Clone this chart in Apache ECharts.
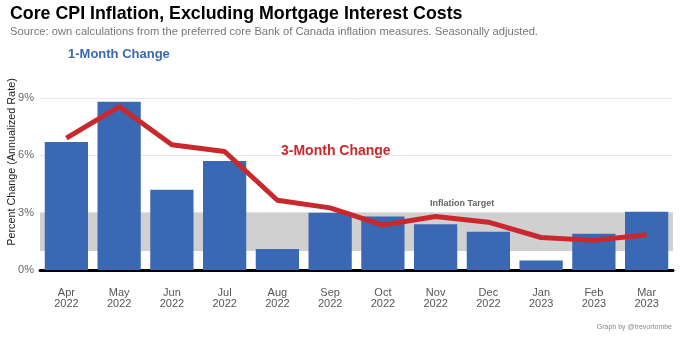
<!DOCTYPE html>
<html><head><meta charset="utf-8">
<script src="https://cdn.jsdelivr.net/npm/echarts@6/dist/echarts.min.js"></script>
<style>html,body{margin:0;padding:0;background:#fff}#c{width:680px;height:340px}</style>
</head><body><div id="c"></div>
<script>
const categories = ['Apr\n2022','May\n2022','Jun\n2022','Jul\n2022','Aug\n2022','Sep\n2022','Oct\n2022','Nov\n2022','Dec\n2022','Jan\n2023','Feb\n2023','Mar\n2023'];
const oneMonth = [6.7, 8.8, 4.2, 5.7, 1.1, 3.0, 2.8, 2.4, 2.0, 0.5, 1.9, 3.05];
const threeMonth = [6.9, 8.55, 6.55, 6.2, 3.65, 3.25, 2.35, 2.8, 2.5, 1.7, 1.55, 1.85];
const targetBand = [1, 3];
const yTicks = [0, 3, 6, 9];

const font = 'Liberation Sans, Arial, sans-serif';
const chart = echarts.init(document.getElementById('c'));
chart.setOption({
  animation: false,
  textStyle: {fontFamily: font},
  grid: {left: 40, right: 7, top: 98, bottom: 70, containLabel: false, outerBoundsMode: 'none'},
  xAxis: {
    type: 'category', data: categories,
    axisLine: {show: true, lineStyle: {color: '#000', width: 3}},
    axisTick: {show: false},
    axisLabel: {color: '#555', fontSize: 11, lineHeight: 11, margin: 17}
  },
  yAxis: {
    type: 'value', min: yTicks[0], max: yTicks[yTicks.length-1], interval: 3,
    axisLine: {show: false}, axisTick: {show: false},
    axisLabel: {color: '#666', fontSize: 11, formatter: '{value}%', margin: 6},
    splitLine: {lineStyle: {color: '#e8e8e8', width: 1}}
  },
  series: [
    {
      type: 'line', data: [], z: 1, silent: true,
      markArea: {silent: true, itemStyle: {color: '#d0d0d0'},
        data: [[{yAxis: targetBand[0], x: 40}, {yAxis: targetBand[1], x: 673}]]}
    },
    {
      type: 'bar', data: oneMonth, z: 2, barCategoryGap: '18%',
      itemStyle: {color: '#3a68b2'}
    },
    {
      type: 'line', data: threeMonth, z: 3, symbol: 'none',
      lineStyle: {color: '#c9282d', width: 5}
    }
  ],
  graphic: [
    {type: 'text', left: 10, top: 5, style: {text: 'Core CPI Inflation, Excluding Mortgage Interest Costs', font: 'bold 17.8px ' + font, fill: '#000'}},
    {type: 'text', left: 10, top: 26, style: {text: 'Source: own calculations from the preferred core Bank of Canada inflation measures. Seasonally adjusted.', font: '11.2px ' + font, fill: '#777'}},
    {type: 'text', left: 68, top: 48, style: {text: '1-Month Change', font: 'bold 13px ' + font, fill: '#3a68b2'}},
    {type: 'text', left: 281, top: 144, style: {text: '3-Month Change', font: 'bold 14px ' + font, fill: '#c9282d'}},
    {type: 'text', left: 430, top: 199, style: {text: 'Inflation Target', font: 'bold 9px ' + font, fill: '#666'}},
    {type: 'text', right: 8, top: 324, style: {text: 'Graph by @trevortombe', font: '7px ' + font, fill: '#888'}},
    {type: 'text', x: 12, y: 162, rotation: Math.PI / 2, style: {text: 'Percent Change (Annualized Rate)', font: '10.8px ' + font, fill: '#222', align: 'center', verticalAlign: 'middle'}}
  ]
});
</script></body></html>
